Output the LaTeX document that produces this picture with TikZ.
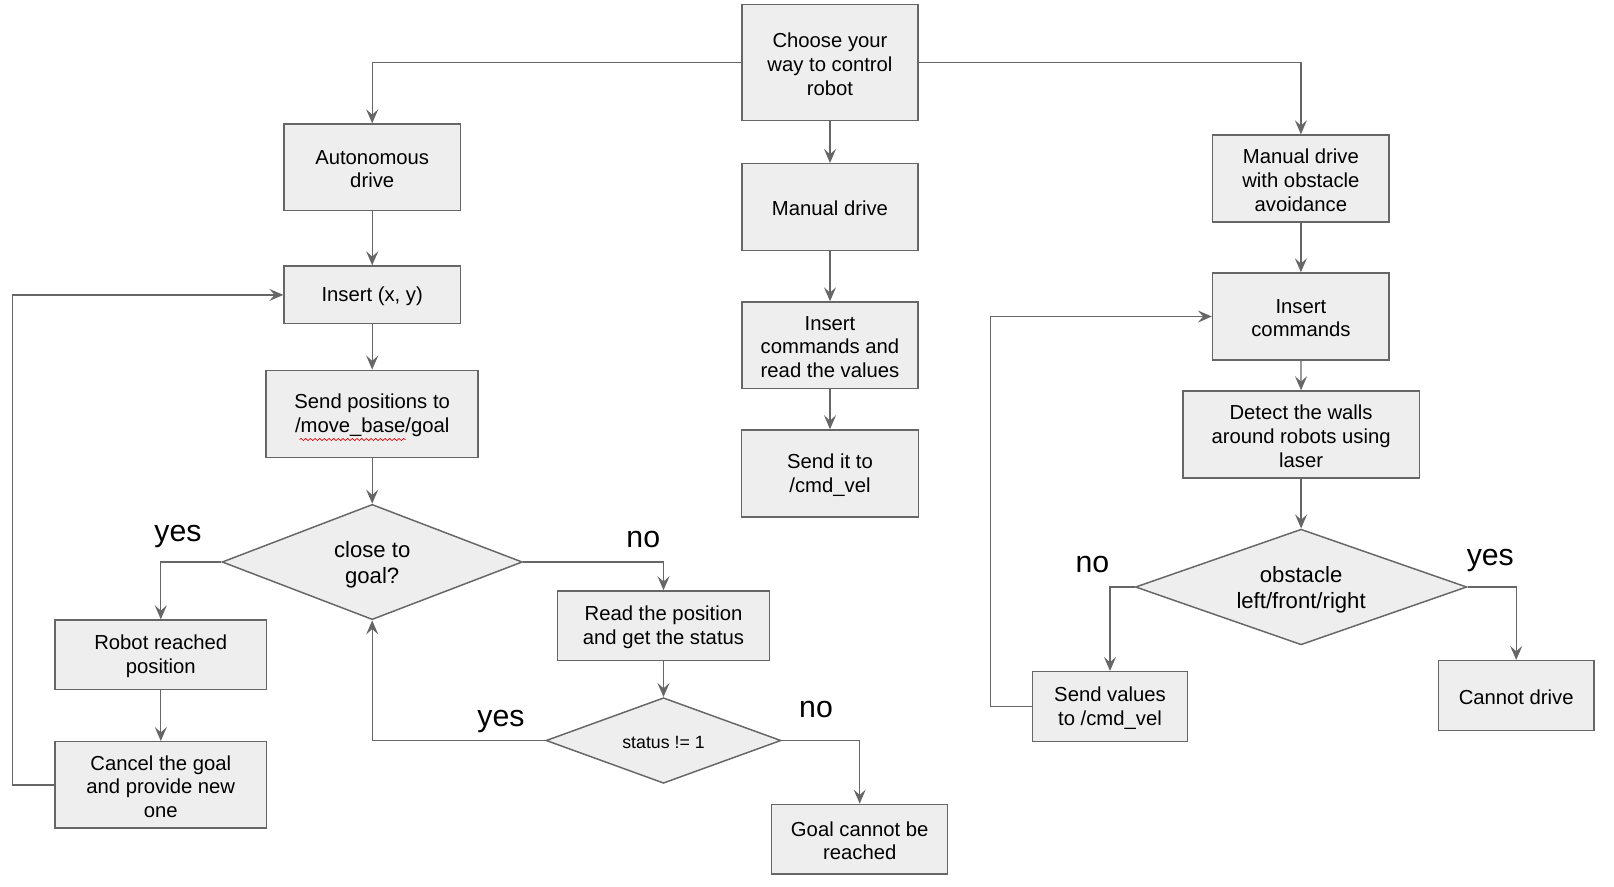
\documentclass[tikz,border=0pt]{standalone}
\usepackage{fontspec}
\setmainfont{Liberation Sans}
\usetikzlibrary{shapes.geometric,arrows.meta,decorations.pathmorphing}
\definecolor{boxfill}{RGB}{238,238,238}
\definecolor{edgec}{RGB}{102,102,102}
\begin{document}
\begin{tikzpicture}[x=0.75pt,y=-0.75pt,
  pbox/.style={draw=edgec, fill=boxfill, line width=1.1pt, inner sep=0pt},
  btext/.style={align=center, inner sep=0pt, yshift=-1.2pt, font=\fontsize{15.2}{17.8}\selectfont},
  tb/.style={label={[btext]center:{#1}}},
  dec/.style={diamond, draw=edgec, fill=boxfill, line width=1.1pt, inner sep=0pt},
  dtext/.style={align=center, inner sep=0pt, yshift=-2.2pt, font=\fontsize{16.6}{20}\selectfont},
  sz/.style 2 args={minimum width=#1*0.75pt, minimum height=#2*0.75pt},
  arr/.style={draw=edgec, line width=1pt, -{Stealth[length=10.5pt,width=9pt,inset=4pt]}},
  lbl/.style={anchor=base, font=\fontsize{22.7}{26}\selectfont}]
\useasboundingbox (0,0) rectangle (1614,886);
% nodes
\node[pbox, sz={176.3}{116}, tb={Choose your\\way to control\\robot}] (choose) at (830,62.7) {};
\node[pbox, sz={176.3}{86.7}, tb={Autonomous\\drive}] (auto) at (372.2,167.4) {};
\node[pbox, sz={176.3}{57.7}, tb={Insert (x, y)}] (insxy) at (372.2,294.9) {};
\node[pbox, sz={212}{87}, tb={Send positions to\\/move\_base/goal}] (sendpos) at (372.2,413.8) {};
\node[dec, sz={300.3}{115.3}, label={[dtext]center:{close to\\goal?}}] (close) at (372.2,562) {};
\node[pbox, sz={211.4}{69.3}, tb={Robot reached\\position}] (robot) at (160.8,654.7) {};
\node[pbox, sz={211.4}{86.3}, tb={Cancel the goal\\and provide new\\one}] (cancel) at (160.8,784.9) {};
\node[pbox, sz={212}{69.7}, tb={Read the position\\and get the status}] (read) at (663.5,625.8) {};
\node[dec, sz={235}{85.6}, label={[inner sep=0pt, yshift=-1.5pt, font=\fontsize{13.3}{16}\selectfont]center:status != 1}] (status) at (663.5,740.5) {};
\node[pbox, sz={176}{69.7}, tb={Goal cannot be\\reached}] (goal) at (859.7,839.2) {};
\node[pbox, sz={176.3}{86.6}, tb={Manual drive}] (manual) at (830,207) {};
\node[pbox, sz={176.3}{86.7}, tb={Insert\\commands and\\read the values}] (inscmd) at (830,345.4) {};
\node[pbox, sz={176.5}{87}, tb={Send it to\\/cmd\_vel}] (sendit) at (830,473.5) {};
\node[pbox, sz={176.6}{87}, tb={Manual drive\\with obstacle\\avoidance}] (mobst) at (1300.9,178.5) {};
\node[pbox, sz={176.6}{87}, tb={Insert\\commands}] (insc2) at (1300.9,316.5) {};
\node[pbox, sz={236.5}{87}, tb={Detect the walls\\around robots using\\laser}] (detect) at (1301.1,434.5) {};
\node[dec, sz={331.4}{115.7}, label={[dtext]center:{obstacle\\left/front/right}}] (obst) at (1301.1,587) {};
\node[pbox, sz={155.3}{70}, tb={Send values\\to /cmd\_vel}] (sendval) at (1110,706.7) {};
\node[pbox, sz={155.2}{69.6}, tb={Cannot drive}] (cannot) at (1516.2,695.5) {};
% labels
\node[lbl] (yes1) at (178,541) {yes};
\node[lbl] (yes2) at (501,726) {yes};
\node[lbl] (no1) at (643.3,547.7) {no};
\node[lbl] (no2) at (816,717.7) {no};
\node[lbl] (no3) at (1092.4,572.7) {no};
\node[lbl] (yes3) at (1490.3,565) {yes};
% loop corners
\coordinate (lc) at (12.4,784.9);
\coordinate (rc) at (990.4,706.7);
% connectors
\draw[arr] (choose.west) -| (auto.north);
\draw[arr] (choose.east) -| (mobst.north);
\draw[arr] (choose) -- (manual);
\draw[arr] (manual) -- (inscmd);
\draw[arr] (inscmd) -- (sendit);
\draw[arr] (auto) -- (insxy);
\draw[arr] (insxy) -- (sendpos);
\draw[arr] (sendpos) -- (close);
\draw[arr] (close.west) -| (robot.north);
\draw[arr] (close.east) -| (read.north);
\draw[arr] (robot) -- (cancel);
\draw[arr] (cancel.west) -- (lc) |- (insxy.west);
\draw[arr] (read) -- (status);
\draw[arr] (status.west) -| (close.south);
\draw[arr] (status.east) -| (goal.north);
\draw[arr] (mobst) -- (insc2);
\draw[arr] (insc2) -- (detect);
\draw[arr] (detect) -- (obst);
\draw[arr] (obst.west) -| (sendval.north);
\draw[arr] (obst.east) -| (cannot.north);
\draw[arr] (sendval.west) -- (rc) |- (insc2.west);
% spell-check underline
\draw[red!85!black, line width=0.5pt, decorate, decoration={snake, amplitude=0.8pt, segment length=3.5pt}] (299.6,439.5) -- (405.6,439.5);
\end{tikzpicture}
\end{document}
